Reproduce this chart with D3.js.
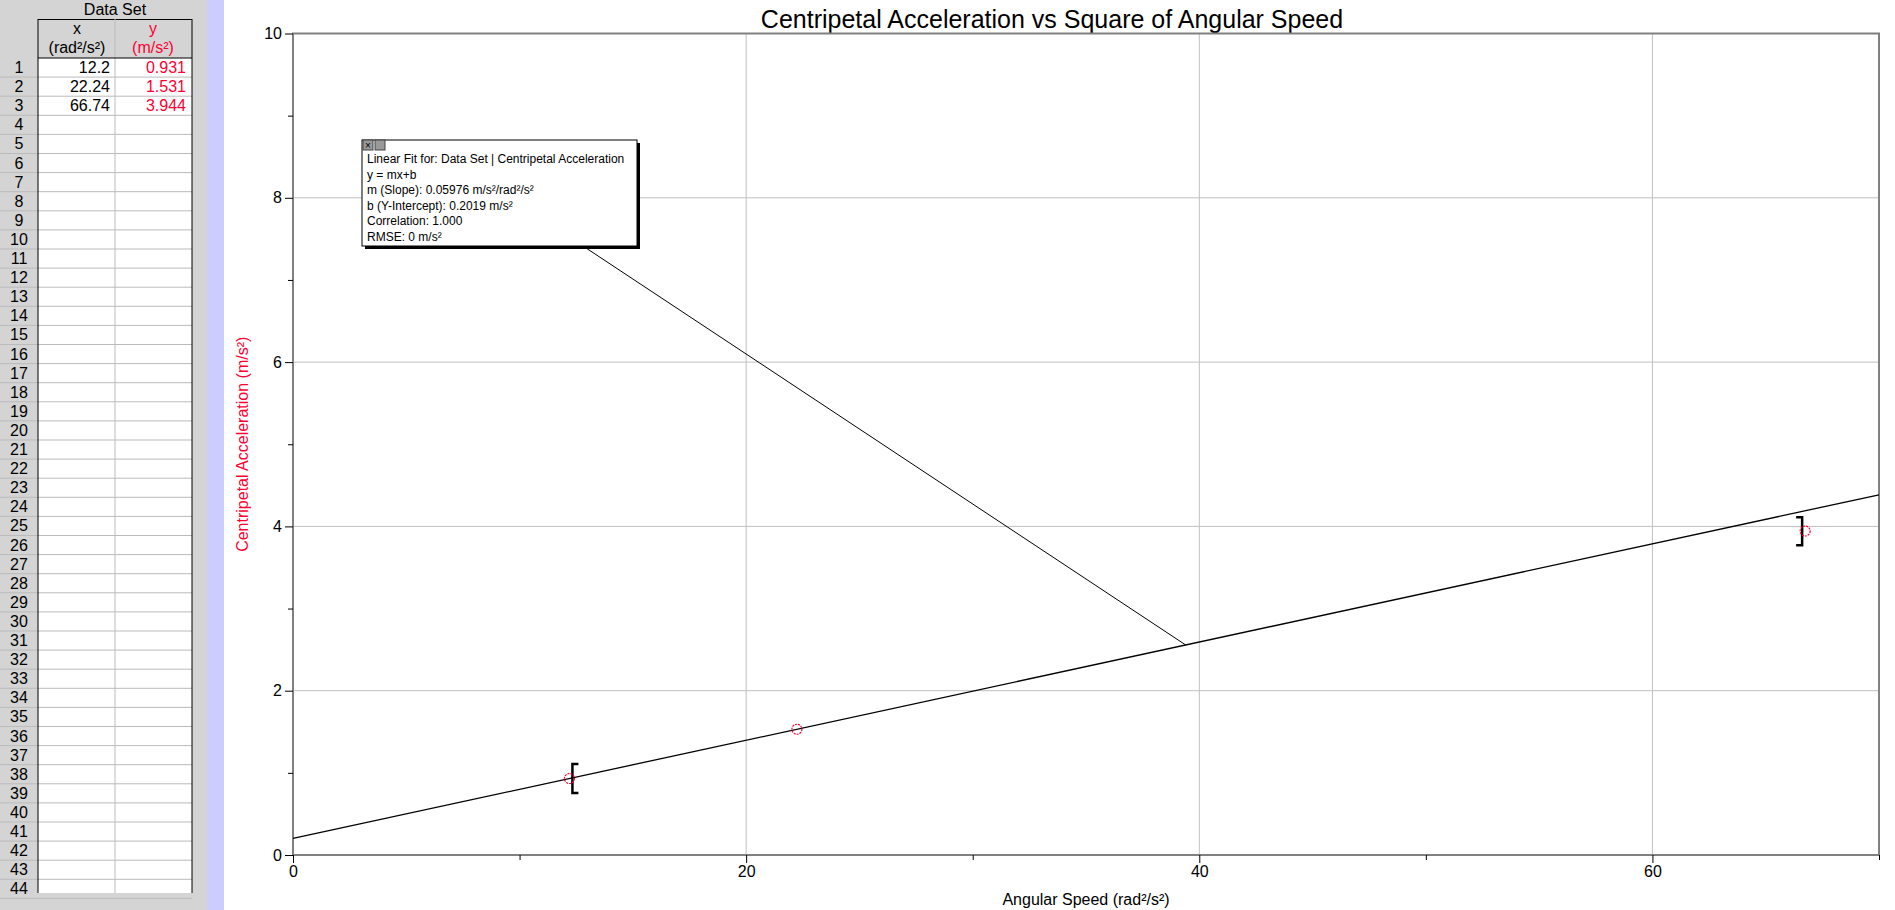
<!DOCTYPE html>
<html><head><meta charset="utf-8">
<script src="https://cdn.jsdelivr.net/npm/d3@7"></script>
<style>body{margin:0;background:#fff;font-family:"Liberation Sans",Arial,sans-serif;}</style>
</head><body>
<svg id="c" width="1895" height="910"></svg>
<script>
var xs = [12.2, 22.24, 66.74]
var ys = [0.931, 1.531, 3.944]
var xLabels = ["12.2", "22.24", "66.74"]
var yLabels = ["0.931", "1.531", "3.944"]
var fitM = 0.05976, fitB = 0.2019
var fitRange = [[12.2, 0.755, 1.108], [66.74, 3.77, 4.11]]
var xTicks = [0, 20, 40, 60]
var yTicks = [0, 2, 4, 6, 8, 10]
var fitText = ["Linear Fit for: Data Set | Centripetal Acceleration", "y = mx+b",
  "m (Slope): 0.05976 m/s²/rad²/s²", "b (Y-Intercept): 0.2019 m/s²", "Correlation: 1.000", "RMSE: 0 m/s²"]

var svg = d3.select("#c")
var red = "#ff0033"

// ---- table panel ----
var tab = svg.append("g")
tab.append("rect").attr("x", 0).attr("y", 0).attr("width", 224).attr("height", 910).attr("fill", "#d4d4d4")
tab.append("rect").attr("x", 207).attr("y", 0).attr("width", 17).attr("height", 910).attr("fill", "#ccccff")
tab.append("rect").attr("x", 38).attr("y", 58).attr("width", 154).attr("height", 835).attr("fill", "#fff")
tab.append("text").attr("x", 115).attr("y", 15).attr("text-anchor", "middle").attr("font-size", 16).text("Data Set")
tab.append("line").attr("x1", 38).attr("x2", 192).attr("y1", 19.5).attr("y2", 19.5).attr("stroke", "#000")
tab.append("text").attr("x", 77).attr("y", 34).attr("text-anchor", "middle").attr("font-size", 16).text("x")
tab.append("text").attr("x", 77).attr("y", 53).attr("text-anchor", "middle").attr("font-size", 16).text("(rad²/s²)")
tab.append("text").attr("x", 153).attr("y", 34).attr("text-anchor", "middle").attr("font-size", 16).attr("fill", red).text("y")
tab.append("text").attr("x", 153).attr("y", 53).attr("text-anchor", "middle").attr("font-size", 16).attr("fill", red).text("(m/s²)")
var rowH = 19.1
d3.range(1, 45).forEach(function(i) {
  var y = 58 + (i - 1) * rowH
  tab.append("line").attr("x1", 0).attr("x2", 192).attr("y1", y + rowH).attr("y2", y + rowH).attr("stroke", "#bbb")
  tab.append("text").attr("x", 19).attr("y", y + 15).attr("text-anchor", "middle").attr("font-size", 16).text(i)
})
tab.append("line").attr("x1", 115).attr("x2", 115).attr("y1", 19).attr("y2", 893).attr("stroke", "#bbb")
tab.append("line").attr("x1", 38).attr("x2", 38).attr("y1", 19).attr("y2", 893).attr("stroke", "#000")
tab.append("line").attr("x1", 192).attr("x2", 192).attr("y1", 19).attr("y2", 893).attr("stroke", "#000")
tab.append("line").attr("x1", 38).attr("x2", 192).attr("y1", 58).attr("y2", 58).attr("stroke", "#000")
xs.forEach(function(v, i) {
  var y = 58 + i * rowH + 15
  tab.append("text").attr("x", 110).attr("y", y).attr("text-anchor", "end").attr("font-size", 16).text(xLabels[i])
  tab.append("text").attr("x", 186).attr("y", y).attr("text-anchor", "end").attr("font-size", 16).attr("fill", red).text(yLabels[i])
})

// ---- chart ----
var x = d3.scaleLinear().domain([0, 70]).range([293, 1879])
var y = d3.scaleLinear().domain([0, 10]).range([855, 33.5])

svg.append("text").attr("x", 1052).attr("y", 28).attr("text-anchor", "middle").attr("font-size", 25).text("Centripetal Acceleration vs Square of Angular Speed")

var g = svg.append("g")
g.selectAll(".gx").data(xTicks.slice(1)).enter().append("line")
  .attr("x1", x).attr("x2", x).attr("y1", y(0)).attr("y2", y(10)).attr("stroke", "#c0c0c0")
g.selectAll(".gy").data(yTicks.slice(1)).enter().append("line")
  .attr("y1", y).attr("y2", y).attr("x1", x(0)).attr("x2", x(70)).attr("stroke", "#c0c0c0")
g.append("rect").attr("x", x(0)).attr("y", y(10)).attr("width", x(70) - x(0)).attr("height", y(0) - y(10))
  .attr("fill", "none").attr("stroke", "#808080").attr("stroke-width", 2)

var xAxis = svg.append("g").attr("transform", "translate(0," + y(0) + ")")
  .call(d3.axisBottom(x).tickValues(d3.range(0, 71, 10)).tickSize(8).tickFormat(function(d) { return d % 20 ? "" : d }))
var yAxis = svg.append("g").attr("transform", "translate(" + x(0) + ",0)")
  .call(d3.axisLeft(y).tickValues(d3.range(0, 11, 1)).tickSize(8).tickFormat(function(d) { return d % 2 ? "" : d }))
;[xAxis, yAxis].forEach(function(a) {
  a.select(".domain").remove()
  a.selectAll("text").attr("font-size", 16).attr("font-family", "Liberation Sans, Arial").attr("fill", "#000")
  a.selectAll("line").attr("stroke", "#000")
})
xAxis.selectAll(".tick").filter(function(d) { return d % 20 }).select("line").attr("y2", 5)
yAxis.selectAll(".tick").filter(function(d) { return d % 2 }).select("line").attr("x2", -5)

svg.append("text").attr("x", 1086).attr("y", 905).attr("text-anchor", "middle").attr("font-size", 16).text("Angular Speed (rad²/s²)")
svg.append("text").attr("transform", "translate(248," + y(5) + ") rotate(-90)").attr("text-anchor", "middle")
  .attr("font-size", 16).attr("fill", red).text("Centripetal Acceleration  (m/s²)")

// fit line
svg.append("line").attr("x1", x(0)).attr("y1", y(fitB)).attr("x2", x(70)).attr("y2", y(fitB + fitM * 70))
  .attr("stroke", "#000").attr("stroke-width", 1.3)

// fit range brackets
fitRange.forEach(function(r, i) {
  var dir = i === 0 ? 1 : -1
  var px = x(r[0]) + 3 * dir
  svg.append("path").attr("d", "M" + (px + 6 * dir) + "," + y(r[2]) + "H" + px + "V" + y(r[1]) + "H" + (px + 6 * dir))
    .attr("fill", "none").attr("stroke", "#000").attr("stroke-width", 2.5)
})

// points
svg.selectAll(".pt").data(xs).enter().append("circle")
  .attr("cx", function(d) { return x(d) }).attr("cy", function(d, i) { return y(ys[i]) })
  .attr("r", 5).attr("fill", "none").attr("stroke", red).attr("stroke-width", 1.2).attr("stroke-dasharray", "2,1")

// annotation
var lx = 39.4
svg.append("line").attr("x1", 583).attr("y1", 246).attr("x2", x(lx)).attr("y2", y(fitB + fitM * lx)).attr("stroke", "#000")
var bx = 362, by = 140, bw = 275, bh = 106
svg.append("rect").attr("x", bx + 3).attr("y", by + 3).attr("width", bw).attr("height", bh).attr("fill", "#000")
svg.append("rect").attr("x", bx).attr("y", by).attr("width", bw).attr("height", bh).attr("fill", "#fff").attr("stroke", "#000")
;[0, 1].forEach(function(i) {
  svg.append("rect").attr("x", bx + 1 + i * 12).attr("y", by).attr("width", 10).attr("height", 10).attr("fill", "#999").attr("stroke", "#444")
})
svg.append("text").attr("x", bx + 6).attr("y", by + 9).attr("text-anchor", "middle").attr("font-size", 10).text("×")
fitText.forEach(function(t, i) {
  svg.append("text").attr("x", bx + 5).attr("y", by + 23 + i * 15.6).attr("font-size", 12).text(t)
})
</script>
</body></html>
